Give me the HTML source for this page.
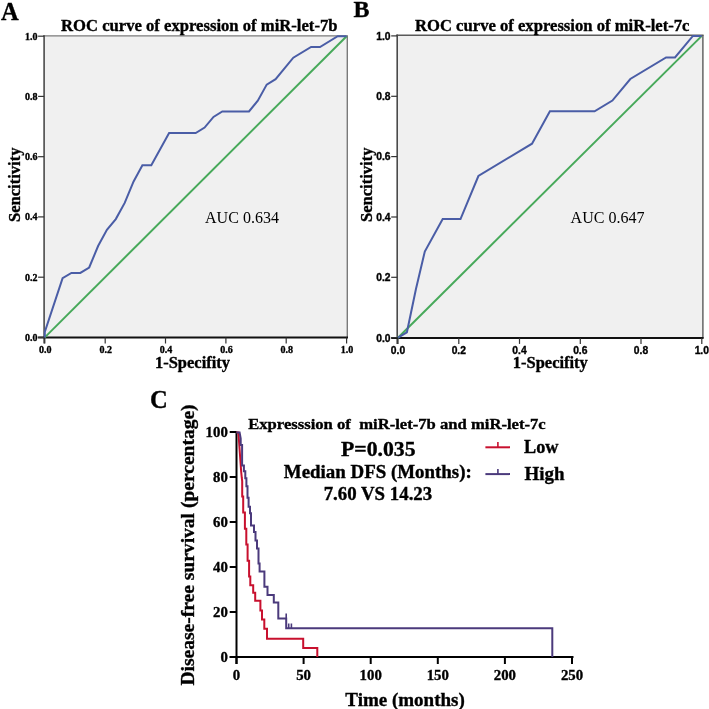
<!DOCTYPE html>
<html><head><meta charset="utf-8"><style>
html,body{margin:0;padding:0;background:#fff;}
svg{display:block;will-change:transform;}
text{fill:#000;} text.b{stroke:#000;stroke-width:0.35px;}
</style></head><body>
<svg width="709" height="709" viewBox="0 0 709 709">
<rect width="709" height="709" fill="#fff"/>
<rect x="44.1" y="35.9" width="303.2" height="301.6" fill="#f0f0f0"/>
<line x1="43.300000000000004" y1="35.9" x2="348.0" y2="35.9" stroke="#7a7a7a" stroke-width="1.4"/>
<line x1="347.3" y1="35.9" x2="347.3" y2="337.5" stroke="#7a7a7a" stroke-width="1.4"/>
<line x1="44.1" y1="35.199999999999996" x2="44.1" y2="343.5" stroke="#4a4a4a" stroke-width="1.6"/>
<line x1="38.1" y1="337.5" x2="348.0" y2="337.5" stroke="#111" stroke-width="2"/>
<line x1="38.1" y1="337.4" x2="44.1" y2="337.4" stroke="#333" stroke-width="1.2"/>
<line x1="44.8" y1="337.5" x2="44.8" y2="343.5" stroke="#333" stroke-width="1.2"/>
<text class="b" x="37.5" y="340.9" text-anchor="end" xml:space="preserve" style="font:bold 10px 'Liberation Serif', serif">0.0</text>
<text class="b" x="45.3" y="352.7" text-anchor="middle" xml:space="preserve" style="font:bold 10px 'Liberation Serif', serif">0.0</text>
<line x1="38.1" y1="277.2" x2="44.1" y2="277.2" stroke="#333" stroke-width="1.2"/>
<line x1="105.2" y1="337.5" x2="105.2" y2="343.5" stroke="#333" stroke-width="1.2"/>
<text class="b" x="37.5" y="280.7" text-anchor="end" xml:space="preserve" style="font:bold 10px 'Liberation Serif', serif">0.2</text>
<text class="b" x="105.7" y="352.7" text-anchor="middle" xml:space="preserve" style="font:bold 10px 'Liberation Serif', serif">0.2</text>
<line x1="38.1" y1="216.9" x2="44.1" y2="216.9" stroke="#333" stroke-width="1.2"/>
<line x1="165.5" y1="337.5" x2="165.5" y2="343.5" stroke="#333" stroke-width="1.2"/>
<text class="b" x="37.5" y="220.4" text-anchor="end" xml:space="preserve" style="font:bold 10px 'Liberation Serif', serif">0.4</text>
<text class="b" x="166.0" y="352.7" text-anchor="middle" xml:space="preserve" style="font:bold 10px 'Liberation Serif', serif">0.4</text>
<line x1="38.1" y1="156.7" x2="44.1" y2="156.7" stroke="#333" stroke-width="1.2"/>
<line x1="225.9" y1="337.5" x2="225.9" y2="343.5" stroke="#333" stroke-width="1.2"/>
<text class="b" x="37.5" y="160.2" text-anchor="end" xml:space="preserve" style="font:bold 10px 'Liberation Serif', serif">0.6</text>
<text class="b" x="226.4" y="352.7" text-anchor="middle" xml:space="preserve" style="font:bold 10px 'Liberation Serif', serif">0.6</text>
<line x1="38.1" y1="96.4" x2="44.1" y2="96.4" stroke="#333" stroke-width="1.2"/>
<line x1="286.2" y1="337.5" x2="286.2" y2="343.5" stroke="#333" stroke-width="1.2"/>
<text class="b" x="37.5" y="99.9" text-anchor="end" xml:space="preserve" style="font:bold 10px 'Liberation Serif', serif">0.8</text>
<text class="b" x="286.7" y="352.7" text-anchor="middle" xml:space="preserve" style="font:bold 10px 'Liberation Serif', serif">0.8</text>
<line x1="38.1" y1="36.2" x2="44.1" y2="36.2" stroke="#333" stroke-width="1.2"/>
<line x1="346.6" y1="337.5" x2="346.6" y2="343.5" stroke="#333" stroke-width="1.2"/>
<text class="b" x="37.5" y="39.7" text-anchor="end" xml:space="preserve" style="font:bold 10px 'Liberation Serif', serif">1.0</text>
<text class="b" x="347.1" y="352.7" text-anchor="middle" xml:space="preserve" style="font:bold 10px 'Liberation Serif', serif">1.0</text>
<line x1="44.8" y1="337.4" x2="346.6" y2="36.2" stroke="#47a95a" stroke-width="2"/>
<polyline points="44.8,337.4 44.8,332.0 62.6,278.2 71.4,272.9 80.3,272.9 89.2,267.5 98.1,246.0 106.9,229.8 115.8,219.1 124.7,202.9 133.6,181.4 142.4,165.3 151.3,165.3 169.1,133.0 195.7,133.0 204.6,127.6 213.5,116.9 222.3,111.5 249.0,111.5 257.8,100.7 266.7,84.6 275.6,79.2 293.3,57.7 311.1,47.0 320.0,47.0 337.7,36.2 346.6,36.2" fill="none" stroke="#4a5da6" stroke-width="2" stroke-linejoin="miter"/>
<text x="205.0" y="223.2" textLength="74" lengthAdjust="spacingAndGlyphs" xml:space="preserve" style="font:16.6px 'Liberation Serif', serif">AUC 0.634</text>
<text class="b" x="61.0" y="30.6" textLength="276.5" lengthAdjust="spacingAndGlyphs" xml:space="preserve" style="font:bold 16.3px 'Liberation Serif', serif">ROC curve of expression of miR-let-7b</text>
<text class="b" x="1.0" y="19.7" xml:space="preserve" style="font:bold 24.5px 'Liberation Serif', serif">A</text>
<text class="b" transform="translate(19.7,222.0) rotate(-90)" textLength="74.5" lengthAdjust="spacingAndGlyphs" xml:space="preserve" style="font:bold 16.3px 'Liberation Serif', serif">Sencitivity</text>
<text class="b" x="155.0" y="367.5" textLength="75" lengthAdjust="spacingAndGlyphs" xml:space="preserve" style="font:bold 16.3px 'Liberation Serif', serif">1-Specifity</text>
<rect x="397.2" y="35.3" width="305.7" height="302.59999999999997" fill="#f0f0f0"/>
<line x1="396.4" y1="35.3" x2="703.6" y2="35.3" stroke="#5a5a5a" stroke-width="1.4"/>
<line x1="702.9" y1="35.3" x2="702.9" y2="337.9" stroke="#5a5a5a" stroke-width="1.4"/>
<line x1="397.2" y1="34.599999999999994" x2="397.2" y2="343.9" stroke="#4a4a4a" stroke-width="1.6"/>
<line x1="391.2" y1="337.9" x2="703.6" y2="337.9" stroke="#111" stroke-width="2"/>
<line x1="391.2" y1="337.7" x2="397.2" y2="337.7" stroke="#333" stroke-width="1.2"/>
<line x1="398.0" y1="337.9" x2="398.0" y2="343.9" stroke="#333" stroke-width="1.2"/>
<text class="b" x="390.59999999999997" y="341.5" text-anchor="end" xml:space="preserve" style="font:bold 10.3px 'Liberation Sans', sans-serif">0.0</text>
<text class="b" x="398.0" y="354.1" text-anchor="middle" xml:space="preserve" style="font:bold 10.3px 'Liberation Sans', sans-serif">0.0</text>
<line x1="391.2" y1="277.3" x2="397.2" y2="277.3" stroke="#333" stroke-width="1.2"/>
<line x1="458.8" y1="337.9" x2="458.8" y2="343.9" stroke="#333" stroke-width="1.2"/>
<text class="b" x="390.59999999999997" y="281.1" text-anchor="end" xml:space="preserve" style="font:bold 10.3px 'Liberation Sans', sans-serif">0.2</text>
<text class="b" x="458.8" y="354.1" text-anchor="middle" xml:space="preserve" style="font:bold 10.3px 'Liberation Sans', sans-serif">0.2</text>
<line x1="391.2" y1="217.0" x2="397.2" y2="217.0" stroke="#333" stroke-width="1.2"/>
<line x1="519.5" y1="337.9" x2="519.5" y2="343.9" stroke="#333" stroke-width="1.2"/>
<text class="b" x="390.59999999999997" y="220.8" text-anchor="end" xml:space="preserve" style="font:bold 10.3px 'Liberation Sans', sans-serif">0.4</text>
<text class="b" x="519.5" y="354.1" text-anchor="middle" xml:space="preserve" style="font:bold 10.3px 'Liberation Sans', sans-serif">0.4</text>
<line x1="391.2" y1="156.6" x2="397.2" y2="156.6" stroke="#333" stroke-width="1.2"/>
<line x1="580.3" y1="337.9" x2="580.3" y2="343.9" stroke="#333" stroke-width="1.2"/>
<text class="b" x="390.59999999999997" y="160.4" text-anchor="end" xml:space="preserve" style="font:bold 10.3px 'Liberation Sans', sans-serif">0.6</text>
<text class="b" x="580.3" y="354.1" text-anchor="middle" xml:space="preserve" style="font:bold 10.3px 'Liberation Sans', sans-serif">0.6</text>
<line x1="391.2" y1="96.3" x2="397.2" y2="96.3" stroke="#333" stroke-width="1.2"/>
<line x1="641.0" y1="337.9" x2="641.0" y2="343.9" stroke="#333" stroke-width="1.2"/>
<text class="b" x="390.59999999999997" y="100.1" text-anchor="end" xml:space="preserve" style="font:bold 10.3px 'Liberation Sans', sans-serif">0.8</text>
<text class="b" x="641.0" y="354.1" text-anchor="middle" xml:space="preserve" style="font:bold 10.3px 'Liberation Sans', sans-serif">0.8</text>
<line x1="391.2" y1="35.9" x2="397.2" y2="35.9" stroke="#333" stroke-width="1.2"/>
<line x1="701.8" y1="337.9" x2="701.8" y2="343.9" stroke="#333" stroke-width="1.2"/>
<text class="b" x="390.59999999999997" y="39.7" text-anchor="end" xml:space="preserve" style="font:bold 10.3px 'Liberation Sans', sans-serif">1.0</text>
<text class="b" x="701.8" y="354.1" text-anchor="middle" xml:space="preserve" style="font:bold 10.3px 'Liberation Sans', sans-serif">1.0</text>
<line x1="398.0" y1="337.7" x2="701.8" y2="35.9" stroke="#47a95a" stroke-width="2"/>
<polyline points="398.0,337.7 406.9,332.3 415.9,289.2 424.8,251.5 442.7,219.1 460.5,219.1 478.4,176.0 532.0,143.7 549.9,111.3 594.6,111.3 612.4,100.6 630.3,79.0 666.1,57.5 675.0,57.5 692.9,35.9 701.8,35.9" fill="none" stroke="#4a5da6" stroke-width="2" stroke-linejoin="miter"/>
<text x="570.6" y="223.2" textLength="74" lengthAdjust="spacingAndGlyphs" xml:space="preserve" style="font:16.6px 'Liberation Serif', serif">AUC 0.647</text>
<text class="b" x="415.0" y="30.6" textLength="274.5" lengthAdjust="spacingAndGlyphs" xml:space="preserve" style="font:bold 16.3px 'Liberation Serif', serif">ROC curve of expression of miR-let-7c</text>
<text class="b" x="353.5" y="16.9" xml:space="preserve" style="font:bold 24px 'Liberation Serif', serif">B</text>
<text class="b" transform="translate(371.6,222.0) rotate(-90)" textLength="74.5" lengthAdjust="spacingAndGlyphs" xml:space="preserve" style="font:bold 16.3px 'Liberation Serif', serif">Sencitivity</text>
<text class="b" x="512.8" y="368.4" textLength="75" lengthAdjust="spacingAndGlyphs" xml:space="preserve" style="font:bold 16.3px 'Liberation Serif', serif">1-Specifity</text>
<line x1="236.5" y1="431.5" x2="236.5" y2="664" stroke="#000" stroke-width="2"/>
<line x1="229.7" y1="657" x2="573.5" y2="657" stroke="#000" stroke-width="2"/>
<line x1="229.7" y1="657.0" x2="236.5" y2="657.0" stroke="#000" stroke-width="2"/>
<text class="b" x="227.8" y="662.0" text-anchor="end" xml:space="preserve" style="font:bold 14.8px 'Liberation Serif', serif">0</text>
<line x1="229.7" y1="612.0" x2="236.5" y2="612.0" stroke="#000" stroke-width="2"/>
<text class="b" x="227.8" y="617.0" text-anchor="end" xml:space="preserve" style="font:bold 14.8px 'Liberation Serif', serif">20</text>
<line x1="229.7" y1="567.0" x2="236.5" y2="567.0" stroke="#000" stroke-width="2"/>
<text class="b" x="227.8" y="572.0" text-anchor="end" xml:space="preserve" style="font:bold 14.8px 'Liberation Serif', serif">40</text>
<line x1="229.7" y1="522.0" x2="236.5" y2="522.0" stroke="#000" stroke-width="2"/>
<text class="b" x="227.8" y="527.0" text-anchor="end" xml:space="preserve" style="font:bold 14.8px 'Liberation Serif', serif">60</text>
<line x1="229.7" y1="477.0" x2="236.5" y2="477.0" stroke="#000" stroke-width="2"/>
<text class="b" x="227.8" y="482.0" text-anchor="end" xml:space="preserve" style="font:bold 14.8px 'Liberation Serif', serif">80</text>
<line x1="229.7" y1="432.0" x2="236.5" y2="432.0" stroke="#000" stroke-width="2"/>
<text class="b" x="227.8" y="437.0" text-anchor="end" xml:space="preserve" style="font:bold 14.8px 'Liberation Serif', serif">100</text>
<line x1="236.5" y1="657" x2="236.5" y2="664" stroke="#000" stroke-width="2"/>
<text class="b" x="236.5" y="680.2" text-anchor="middle" xml:space="preserve" style="font:bold 14.8px 'Liberation Serif', serif">0</text>
<line x1="303.6" y1="657" x2="303.6" y2="664" stroke="#000" stroke-width="2"/>
<text class="b" x="303.6" y="680.2" text-anchor="middle" xml:space="preserve" style="font:bold 14.8px 'Liberation Serif', serif">50</text>
<line x1="370.7" y1="657" x2="370.7" y2="664" stroke="#000" stroke-width="2"/>
<text class="b" x="370.7" y="680.2" text-anchor="middle" xml:space="preserve" style="font:bold 14.8px 'Liberation Serif', serif">100</text>
<line x1="437.8" y1="657" x2="437.8" y2="664" stroke="#000" stroke-width="2"/>
<text class="b" x="437.8" y="680.2" text-anchor="middle" xml:space="preserve" style="font:bold 14.8px 'Liberation Serif', serif">150</text>
<line x1="504.9" y1="657" x2="504.9" y2="664" stroke="#000" stroke-width="2"/>
<text class="b" x="504.9" y="680.2" text-anchor="middle" xml:space="preserve" style="font:bold 14.8px 'Liberation Serif', serif">200</text>
<line x1="572.0" y1="657" x2="572.0" y2="664" stroke="#000" stroke-width="2"/>
<text class="b" x="572.0" y="680.2" text-anchor="middle" xml:space="preserve" style="font:bold 14.8px 'Liberation Serif', serif">250</text>
<polyline points="236.5,432.5 238.4,432.5 241.2,472.0 241.8,478.0 242.2,481.0 242.2,496.6 243.2,496.6 243.2,512.6 244.9,512.6 244.9,528.7 246.3,528.7 246.3,544.5 247.6,544.5 247.6,560.7 249.1,560.7 249.1,576.5 250.3,576.5 250.3,585.2 253.2,585.2 253.2,592.8 255.2,592.8 255.2,600.8 260.4,600.8 260.4,610.5 262.0,610.5 262.0,619.6 264.3,619.6 264.3,628.7 267.0,628.7 267.0,638.8 303.2,638.8 303.2,648.0 317.3,648.0 317.3,657.0" fill="none" stroke="#c8102e" stroke-width="2"/>
<polyline points="236.5,432.5 239.6,432.5 240.7,438.6 240.7,445.0 242.1,445.0 242.1,465.5 243.9,465.5 243.9,471.3 245.3,471.3 245.3,478.3 246.4,478.3 246.4,486.3 247.5,486.3 247.5,497.8 248.6,497.8 248.6,506.7 250.0,506.7 250.0,513.3 251.0,513.3 251.0,525.5 254.0,525.5 254.0,532.0 255.5,532.0 255.5,540.5 257.0,540.5 257.0,548.5 258.5,548.5 258.5,563.5 259.6,563.5 259.6,571.5 264.4,571.5 264.4,586.8 267.5,586.8 267.5,594.9 273.8,594.9 273.8,602.5 278.3,602.5 278.3,618.5 286.2,618.5 286.2,628.3 552.3,628.3 552.3,657.0" fill="none" stroke="#4b3a7c" stroke-width="2"/>
<line x1="286.2" y1="613.5" x2="286.2" y2="618.5" stroke="#4b3a7c" stroke-width="1.6"/>
<line x1="288.7" y1="623.5" x2="288.7" y2="628.3" stroke="#4b3a7c" stroke-width="1.6"/>
<line x1="291.4" y1="623.5" x2="291.4" y2="628.3" stroke="#4b3a7c" stroke-width="1.6"/>
<line x1="485.4" y1="447.3" x2="510" y2="447.3" stroke="#c8102e" stroke-width="2"/>
<line x1="497.9" y1="442" x2="497.9" y2="447.3" stroke="#c8102e" stroke-width="1.6"/>
<line x1="485.4" y1="474.1" x2="510" y2="474.1" stroke="#4b3a7c" stroke-width="2"/>
<line x1="497.9" y1="469" x2="497.9" y2="474.1" stroke="#4b3a7c" stroke-width="1.6"/>
<text class="b" x="524.0" y="453.3" textLength="34.5" lengthAdjust="spacingAndGlyphs" xml:space="preserve" style="font:bold 18.5px 'Liberation Serif', serif">Low</text>
<text class="b" x="524.5" y="480.1" textLength="40" lengthAdjust="spacingAndGlyphs" xml:space="preserve" style="font:bold 18.5px 'Liberation Serif', serif">High</text>
<text class="b" x="248.2" y="428.5" textLength="297.5" lengthAdjust="spacingAndGlyphs" xml:space="preserve" style="font:bold 15.4px 'Liberation Serif', serif">Expresssion of  miR-let-7b and miR-let-7c</text>
<text class="b" x="341.0" y="456" textLength="74.5" lengthAdjust="spacingAndGlyphs" xml:space="preserve" style="font:bold 20px 'Liberation Serif', serif">P=0.035</text>
<text class="b" x="283.8" y="478" textLength="188" lengthAdjust="spacingAndGlyphs" xml:space="preserve" style="font:bold 18px 'Liberation Serif', serif">Median DFS (Months):</text>
<text class="b" x="323.7" y="500.3" textLength="108.5" lengthAdjust="spacingAndGlyphs" xml:space="preserve" style="font:bold 18px 'Liberation Serif', serif">7.60 VS 14.23</text>
<text class="b" x="345.3" y="705.9" textLength="119.5" lengthAdjust="spacingAndGlyphs" xml:space="preserve" style="font:bold 19px 'Liberation Serif', serif">Time (months)</text>
<text class="b" transform="translate(194.2,685.6) rotate(-90)" textLength="281.2" lengthAdjust="spacingAndGlyphs" xml:space="preserve" style="font:bold 18.5px 'Liberation Serif', serif">Disease-free survival (percentage)</text>
<text class="b" x="150.0" y="407.9" xml:space="preserve" style="font:bold 24.5px 'Liberation Serif', serif">C</text>
</svg>
</body></html>
